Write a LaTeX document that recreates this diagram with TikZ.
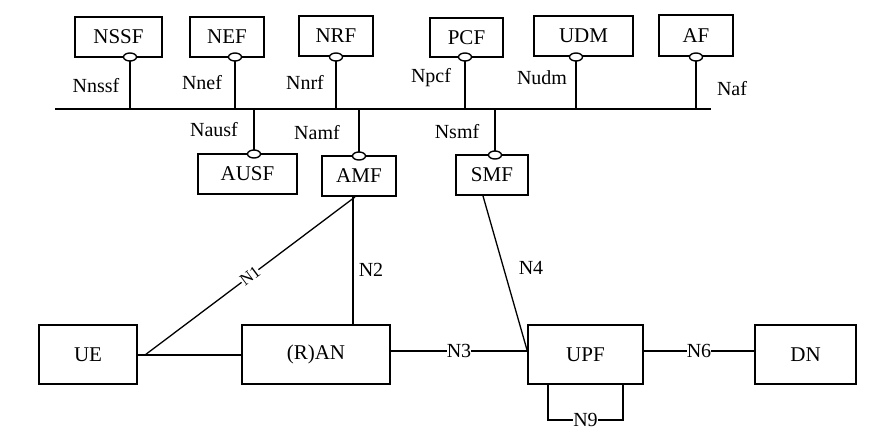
\documentclass[tikz,border=0pt]{standalone}
\usepackage{fontspec}
\setmainfont{Liberation Serif}
\usetikzlibrary{shapes.geometric}
\begin{document}
\begin{tikzpicture}[x=1pt,y=-1pt,line width=1.6pt,
  box/.style={draw,rectangle,inner sep=0pt,font=\rmfamily\fontsize{21}{21}\selectfont},
  lbl/.style={font=\rmfamily\fontsize{20}{20}\selectfont,inner sep=1pt},
  ov/.style={draw,fill=white,ellipse,minimum width=13pt,minimum height=8pt,inner sep=0pt,line width=1.4pt}]
\useasboundingbox (0,0) rectangle (887,439);
% top boxes
\node[box,minimum width=87pt,minimum height=40pt] (nssf) at (118.5,37) {NSSF};
\node[box,minimum width=74pt,minimum height=40pt] (nef) at (227,37) {NEF};
\node[box,minimum width=74pt,minimum height=40pt] (nrf) at (336,36) {NRF};
\node[box,minimum width=73pt,minimum height=39pt] (pcf) at (466.5,37.5) {PCF};
\node[box,minimum width=99pt,minimum height=40pt] (udm) at (583.5,36) {UDM};
\node[box,minimum width=74pt,minimum height=41pt] (af) at (696,35.5) {AF};
\node[box,minimum width=99pt,minimum height=40pt] (ausf) at (247.5,174) {AUSF};
\node[box,minimum width=74pt,minimum height=40pt] (amf) at (359,176) {AMF};
\node[box,minimum width=72pt,minimum height=40pt] (smf) at (492,175) {SMF};
% bus
\coordinate (bl) at (55,109); \coordinate (br) at (711,109);
\draw (bl) -- (br);
\foreach \n/\x in {nssf/130,nef/235,nrf/336,pcf/465,udm/576,af/696}{
  \coordinate (\n b) at (\x,109);
  \draw (\x,57) -- (\n b);
  \node[ov] (\n o) at (\x,57) {};}
\foreach \n/\x/\y in {ausf/254/154,amf/359/156,smf/495/155}{
  \coordinate (\n b) at (\x,109);
  \draw (\n b) -- (\x,\y);
  \node[ov] (\n o) at (\x,\y) {};}
\node[lbl] at (96,86) {Nnssf};
\node[lbl] at (202,83) {Nnef};
\node[lbl] at (305,82) {Nnrf};
\node[lbl] at (431,78) {Npcf};
\node[lbl] at (542,78) {Nudm};
\node[lbl] at (732,89) {Naf};
\node[lbl] at (214,130) {Nausf};
\node[lbl] at (317,133) {Namf};
\node[lbl] at (457,132) {Nsmf};
% bottom
\begin{scope}[line width=1.3pt]
\node[box,minimum width=98pt,minimum height=59pt] (ue) at (88,354.5) {UE};
\node[box,minimum width=148pt,minimum height=59pt] (ran) at (316,354.5) {(R)AN};
\node[box,minimum width=115pt,minimum height=59pt] (upf) at (585.5,354.5) {UPF};
\node[box,minimum width=101pt,minimum height=59pt] (dn) at (805.5,354.5) {DN};
\coordinate (uej) at (145,355);
\draw (ue.east |- uej) -- (uej) -- (ran.west |- uej);
\draw (uej) -- node[lbl,sloped,fill=white,inner sep=0pt,font=\rmfamily\fontsize{17}{17}\selectfont] {N1} (355,197);
\draw (353,196) -- (353,325);
\node[lbl] at (371,270) {N2};
\draw (483,196) -- (527,350);
\node[lbl] at (531,268) {N4};
\draw (ran.east |- 0,351) -- node[lbl,fill=white,inner sep=0pt] {N3} (upf.west |- 0,351);
\draw (upf.east |- 0,351) -- node[lbl,fill=white,inner sep=0pt] {N6} (dn.west |- 0,351);
\draw (548,384) -- (548,420) -- node[lbl,fill=white,inner sep=0pt] {N9} (623,420) -- (623,384);
\end{scope}
\end{tikzpicture}
\end{document}
